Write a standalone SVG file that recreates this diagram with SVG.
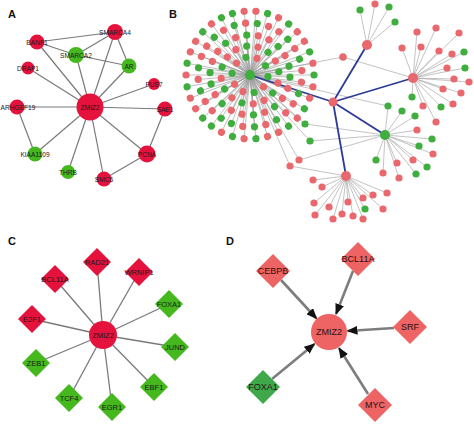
<svg xmlns="http://www.w3.org/2000/svg" width="474" height="424" viewBox="0 0 474 424">
<style>
.pl{font-family:"Liberation Sans",Arial,sans-serif;font-weight:bold;font-size:11px;fill:#111}
.ea{stroke:#7a7a7a;stroke-width:1.2;fill:none}
.eb{stroke:#9a9a9a;stroke-width:0.6;fill:none}
.bl{stroke:#2d3a96;stroke-width:1.8;fill:none}
.ec{stroke:#7a7a7a;stroke-width:1.3;fill:none}
.ed{stroke:#7d7d7d;stroke-width:2.6;fill:none}
.ra{fill:#e5123d}
.ga{fill:#45b81e}
.r{fill:#e9686e}
.g{fill:#3fae3f}
.rd{fill:#ee6363}
.gd{fill:#3ea84a}
.ta{font-family:"Liberation Sans",Arial,sans-serif;font-size:6.6px;fill:#1a1a1a;text-anchor:middle}
.tc{font-family:"Liberation Sans",Arial,sans-serif;font-size:7.5px;fill:#1a1a1a;text-anchor:middle}
.td{font-family:"Liberation Sans",Arial,sans-serif;font-size:9px;fill:#2a1212;text-anchor:middle}
</style>
<defs>
<marker id="ah" markerUnits="userSpaceOnUse" markerWidth="11" markerHeight="9" refX="10" refY="4.5" orient="auto">
<path d="M0,0 L11,4.5 L0,9 z" fill="#111"/>
</marker>
</defs>
<rect width="474" height="424" fill="#fff"/>

<!-- panel labels -->
<text class="pl" x="8" y="18">A</text>
<text class="pl" x="169" y="18">B</text>
<text class="pl" x="8" y="245">C</text>
<text class="pl" x="226" y="245">D</text>

<!-- ===== Connectors ===== -->
<g id="connectors">
 <!-- A -->
 <g id="conn-A" class="ea">
  <line x1="90" y1="107" x2="37" y2="42"/>
  <line x1="90" y1="107" x2="115" y2="32"/>
  <line x1="90" y1="107" x2="76" y2="55"/>
  <line x1="90" y1="107" x2="129" y2="66"/>
  <line x1="90" y1="107" x2="28" y2="68"/>
  <line x1="90" y1="107" x2="154" y2="84"/>
  <line x1="90" y1="107" x2="165" y2="109"/>
  <line x1="90" y1="107" x2="17" y2="107"/>
  <line x1="90" y1="107" x2="35" y2="154"/>
  <line x1="90" y1="107" x2="68" y2="172"/>
  <line x1="90" y1="107" x2="104" y2="179"/>
  <line x1="90" y1="107" x2="147" y2="154"/>
  <line x1="37" y1="42" x2="115" y2="32"/>
  <line x1="37" y1="42" x2="76" y2="55"/>
  <line x1="115" y1="32" x2="76" y2="55"/>
  <line x1="115" y1="32" x2="129" y2="66"/>
  <line x1="76" y1="55" x2="129" y2="66"/>
  <line x1="17" y1="107" x2="35" y2="154"/>
  <line x1="165" y1="109" x2="147" y2="154"/>
  <line x1="147" y1="154" x2="104" y2="179"/>
 </g>
 <!-- B: hub1 star -->
 <g id="conn-B1" class="eb" transform="translate(250,75)">
  <line x2="18" transform="rotate(5)"/><line x2="18" transform="rotate(41)"/><line x2="18" transform="rotate(77)"/><line x2="18" transform="rotate(113)"/><line x2="18" transform="rotate(149)"/><line x2="18" transform="rotate(185)"/><line x2="18" transform="rotate(221)"/><line x2="18" transform="rotate(257)"/><line x2="18" transform="rotate(293)"/><line x2="18" transform="rotate(329)"/>
  <line x2="29" transform="rotate(16)"/><line x2="29" transform="rotate(38.5)"/><line x2="29" transform="rotate(61)"/><line x2="29" transform="rotate(83.5)"/><line x2="29" transform="rotate(106)"/><line x2="29" transform="rotate(128.5)"/><line x2="29" transform="rotate(151)"/><line x2="29" transform="rotate(173.5)"/><line x2="29" transform="rotate(196)"/><line x2="29" transform="rotate(218.5)"/><line x2="29" transform="rotate(241)"/><line x2="29" transform="rotate(263.5)"/><line x2="29" transform="rotate(286)"/><line x2="29" transform="rotate(308.5)"/><line x2="29" transform="rotate(331)"/><line x2="29" transform="rotate(353.5)"/>
  <line x2="40" transform="rotate(3)"/><line x2="40" transform="rotate(19.4)"/><line x2="40" transform="rotate(35.8)"/><line x2="40" transform="rotate(52.2)"/><line x2="40" transform="rotate(68.6)"/><line x2="40" transform="rotate(85)"/><line x2="40" transform="rotate(101.4)"/><line x2="40" transform="rotate(117.8)"/><line x2="40" transform="rotate(134.2)"/><line x2="40" transform="rotate(150.6)"/><line x2="40" transform="rotate(167)"/><line x2="40" transform="rotate(183.4)"/><line x2="40" transform="rotate(199.8)"/><line x2="40" transform="rotate(216.2)"/><line x2="40" transform="rotate(232.6)"/><line x2="40" transform="rotate(249)"/><line x2="40" transform="rotate(265.4)"/><line x2="40" transform="rotate(281.8)"/><line x2="40" transform="rotate(298.2)"/><line x2="40" transform="rotate(314.6)"/><line x2="40" transform="rotate(331)"/><line x2="40" transform="rotate(347.4)"/>
  <line x2="52" transform="rotate(8)"/><line x2="52" transform="rotate(20.9)"/><line x2="52" transform="rotate(33.7)"/><line x2="52" transform="rotate(46.6)"/><line x2="52" transform="rotate(59.4)"/><line x2="52" transform="rotate(72.3)"/><line x2="52" transform="rotate(85.1)"/><line x2="52" transform="rotate(98)"/><line x2="52" transform="rotate(110.9)"/><line x2="52" transform="rotate(123.7)"/><line x2="52" transform="rotate(136.6)"/><line x2="52" transform="rotate(149.4)"/><line x2="52" transform="rotate(162.3)"/><line x2="52" transform="rotate(175.1)"/><line x2="52" transform="rotate(188)"/><line x2="52" transform="rotate(200.9)"/><line x2="52" transform="rotate(213.7)"/><line x2="52" transform="rotate(226.6)"/><line x2="52" transform="rotate(239.4)"/><line x2="52" transform="rotate(252.3)"/><line x2="52" transform="rotate(265.1)"/><line x2="52" transform="rotate(278)"/><line x2="52" transform="rotate(290.9)"/><line x2="52" transform="rotate(303.7)"/><line x2="52" transform="rotate(316.6)"/><line x2="52" transform="rotate(329.4)"/><line x2="52" transform="rotate(342.3)"/><line x2="52" transform="rotate(355.1)"/>
  <line x2="64" transform="rotate(0)"/><line x2="64" transform="rotate(10.6)"/><line x2="64" transform="rotate(21.2)"/><line x2="64" transform="rotate(31.8)"/><line x2="64" transform="rotate(42.4)"/><line x2="64" transform="rotate(53)"/><line x2="64" transform="rotate(63.5)"/><line x2="64" transform="rotate(74.1)"/><line x2="64" transform="rotate(84.7)"/><line x2="64" transform="rotate(95.3)"/><line x2="64" transform="rotate(105.9)"/><line x2="64" transform="rotate(116.5)"/><line x2="64" transform="rotate(127.1)"/><line x2="64" transform="rotate(137.6)"/><line x2="64" transform="rotate(148.2)"/><line x2="64" transform="rotate(158.8)"/><line x2="64" transform="rotate(169.4)"/><line x2="64" transform="rotate(180)"/><line x2="64" transform="rotate(190.6)"/><line x2="64" transform="rotate(201.2)"/><line x2="64" transform="rotate(211.8)"/><line x2="64" transform="rotate(222.4)"/><line x2="64" transform="rotate(233)"/><line x2="64" transform="rotate(243.5)"/><line x2="64" transform="rotate(254.1)"/><line x2="64" transform="rotate(264.7)"/><line x2="64" transform="rotate(275.3)"/><line x2="64" transform="rotate(285.9)"/><line x2="64" transform="rotate(296.5)"/><line x2="64" transform="rotate(307.1)"/><line x2="64" transform="rotate(317.6)"/><line x2="64" transform="rotate(328.2)"/><line x2="64" transform="rotate(338.8)"/><line x2="64" transform="rotate(349.4)"/>
 </g>
 <!-- B: other gray edges -->
 <g id="conn-B2" class="eb">
  <line x1="250" y1="75" x2="305" y2="124"/>
  <line x1="250" y1="75" x2="310" y2="141"/>
  <line x1="250" y1="75" x2="299" y2="160"/>
  <line x1="250" y1="75" x2="290" y2="166"/>
  <line x1="250" y1="75" x2="343" y2="57"/>
  <line x1="250" y1="75" x2="388" y2="106"/>
  <line x1="343" y1="57" x2="413" y2="78"/>
  <line x1="367" y1="45" x2="360" y2="10"/>
  <line x1="367" y1="45" x2="375" y2="4"/>
  <line x1="367" y1="45" x2="389" y2="7"/>
  <line x1="367" y1="45" x2="395" y2="22"/>
  <line x1="413" y1="78" x2="417" y2="32"/>
  <line x1="413" y1="78" x2="436" y2="28"/>
  <line x1="413" y1="78" x2="459" y2="33"/>
  <line x1="413" y1="78" x2="421" y2="47"/>
  <line x1="413" y1="78" x2="402" y2="48"/>
  <line x1="413" y1="78" x2="439" y2="51"/>
  <line x1="413" y1="78" x2="452" y2="54"/>
  <line x1="413" y1="78" x2="464" y2="52"/>
  <line x1="413" y1="78" x2="465" y2="68"/>
  <line x1="413" y1="78" x2="447" y2="68"/>
  <line x1="413" y1="78" x2="454" y2="79"/>
  <line x1="413" y1="78" x2="469" y2="82"/>
  <line x1="413" y1="78" x2="443" y2="89"/>
  <line x1="413" y1="78" x2="461" y2="93"/>
  <line x1="413" y1="78" x2="453" y2="104"/>
  <line x1="413" y1="78" x2="441" y2="107"/>
  <line x1="413" y1="78" x2="423" y2="106"/>
  <line x1="413" y1="78" x2="412" y2="97"/>
  <line x1="413" y1="78" x2="436" y2="122"/>
  <line x1="385" y1="135" x2="388" y2="106"/>
  <line x1="385" y1="135" x2="402" y2="111"/>
  <line x1="385" y1="135" x2="415" y2="116"/>
  <line x1="385" y1="135" x2="417" y2="130"/>
  <line x1="385" y1="135" x2="432" y2="139"/>
  <line x1="385" y1="135" x2="419" y2="146"/>
  <line x1="385" y1="135" x2="433" y2="154"/>
  <line x1="385" y1="135" x2="427" y2="167"/>
  <line x1="385" y1="135" x2="413" y2="160"/>
  <line x1="385" y1="135" x2="416" y2="174"/>
  <line x1="385" y1="135" x2="399" y2="178"/>
  <line x1="385" y1="135" x2="397" y2="163"/>
  <line x1="385" y1="135" x2="383" y2="173"/>
  <line x1="385" y1="135" x2="376" y2="160"/>
  <line x1="385" y1="135" x2="305" y2="124"/>
  <line x1="385" y1="135" x2="310" y2="141"/>
  <line x1="385" y1="135" x2="299" y2="160"/>
  <line x1="346" y1="176" x2="290" y2="166"/>
  <line x1="346" y1="176" x2="313" y2="180"/>
  <line x1="346" y1="176" x2="322" y2="187"/>
  <line x1="346" y1="176" x2="314" y2="203"/>
  <line x1="346" y1="176" x2="329" y2="207"/>
  <line x1="346" y1="176" x2="348" y2="202"/>
  <line x1="346" y1="176" x2="363" y2="198"/>
  <line x1="346" y1="176" x2="373" y2="195"/>
  <line x1="346" y1="176" x2="387" y2="193"/>
  <line x1="346" y1="176" x2="365" y2="209"/>
  <line x1="346" y1="176" x2="383" y2="209"/>
  <line x1="346" y1="176" x2="315" y2="215"/>
  <line x1="346" y1="176" x2="342" y2="214"/>
  <line x1="346" y1="176" x2="353" y2="216"/>
  <line x1="346" y1="176" x2="333" y2="219"/>
  <line x1="346" y1="176" x2="363" y2="219"/>
 </g>
 <!-- B: blue edges -->
 <g id="conn-B3" class="bl">
  <line x1="250" y1="75" x2="333" y2="102"/>
  <line x1="333" y1="102" x2="367" y2="45"/>
  <line x1="333" y1="102" x2="413" y2="78"/>
  <line x1="333" y1="102" x2="385" y2="135"/>
  <line x1="333" y1="102" x2="346" y2="176"/>
 </g>
 <!-- C -->
 <g id="conn-C" class="ec">
  <line x1="103" y1="335" x2="97" y2="262"/>
  <line x1="103" y1="335" x2="139" y2="272"/>
  <line x1="103" y1="335" x2="55" y2="279"/>
  <line x1="103" y1="335" x2="169" y2="304"/>
  <line x1="103" y1="335" x2="32" y2="319"/>
  <line x1="103" y1="335" x2="175" y2="347"/>
  <line x1="103" y1="335" x2="36" y2="363"/>
  <line x1="103" y1="335" x2="154" y2="387"/>
  <line x1="103" y1="335" x2="69" y2="398"/>
  <line x1="103" y1="335" x2="112" y2="407"/>
 </g>
 <!-- D -->
 <g id="conn-D" class="ed" marker-end="url(#ah)">
  <line x1="281" y1="280" x2="316.5" y2="318.5"/>
  <line x1="353" y1="271" x2="336" y2="314"/>
  <line x1="394" y1="328" x2="347.5" y2="331"/>
  <line x1="272" y1="379" x2="314.5" y2="344"/>
  <line x1="368" y1="394" x2="339" y2="348"/>
 </g>
</g>

<!-- ===== Panel A nodes ===== -->
<g id="A-ZMIZ2"><circle class="ra" cx="90" cy="107" r="13.5"/><text class="ta" x="90" y="109.5">ZMIZ2</text></g>
<g id="A-BANF1"><circle class="ra" cx="37" cy="42" r="7.5"/><text class="ta" x="37" y="44.5">BANF1</text></g>
<g id="A-SMARCA4"><circle class="ra" cx="115" cy="32" r="8"/><text class="ta" x="115" y="34.5">SMARCA4</text></g>
<g id="A-SMARCA2"><circle class="ga" cx="76" cy="55" r="8"/><text class="ta" x="76" y="57.5">SMARCA2</text></g>
<g id="A-AR"><circle class="ga" cx="129" cy="66" r="7.5"/><text class="ta" x="129" y="68.5">AR</text></g>
<g id="A-DRAP1"><circle class="ra" cx="28" cy="68" r="6.5"/><text class="ta" x="28" y="70.5">DRAP1</text></g>
<g id="A-PUS7"><circle class="ra" cx="154" cy="84" r="6"/><text class="ta" x="154" y="86.5">PUS7</text></g>
<g id="A-SAE1"><circle class="ra" cx="165" cy="109" r="7.5"/><text class="ta" x="165" y="111.5">SAE1</text></g>
<g id="A-ARHGEF19"><circle class="ra" cx="17" cy="107" r="7.5"/><text class="ta" x="18" y="109.5">ARHGEF19</text></g>
<g id="A-KIAA1109"><circle class="ga" cx="35" cy="154" r="7.5"/><text class="ta" x="35" y="156.5">KIAA1109</text></g>
<g id="A-THRB"><circle class="ga" cx="68" cy="172" r="7"/><text class="ta" x="68" y="174.5">THRB</text></g>
<g id="A-SMC6"><circle class="ra" cx="104" cy="179" r="7.5"/><text class="ta" x="104" y="181.5">SMC6</text></g>
<g id="A-PCNA"><circle class="ra" cx="147" cy="154" r="8.5"/><text class="ta" x="147" y="156.5">PCNA</text></g>

<!-- ===== Panel B nodes ===== -->
<g id="B-hub1-leaves" transform="translate(250,75)">
 <circle class="g" r="3.6" transform="rotate(5)translate(18)"/><circle class="r" r="3.6" transform="rotate(41)translate(18)"/><circle class="g" r="3.6" transform="rotate(77)translate(18)"/><circle class="r" r="3.6" transform="rotate(113)translate(18)"/><circle class="r" r="3.6" transform="rotate(149)translate(18)"/><circle class="g" r="3.6" transform="rotate(185)translate(18)"/><circle class="r" r="3.6" transform="rotate(221)translate(18)"/><circle class="g" r="3.6" transform="rotate(257)translate(18)"/><circle class="r" r="3.6" transform="rotate(293)translate(18)"/><circle class="g" r="3.6" transform="rotate(329)translate(18)"/>
 <circle class="r" r="3.6" transform="rotate(16)translate(29)"/><circle class="g" r="3.6" transform="rotate(38.5)translate(29)"/><circle class="r" r="3.6" transform="rotate(61)translate(29)"/><circle class="r" r="3.6" transform="rotate(83.5)translate(29)"/><circle class="g" r="3.6" transform="rotate(106)translate(29)"/><circle class="r" r="3.6" transform="rotate(128.5)translate(29)"/><circle class="g" r="3.6" transform="rotate(151)translate(29)"/><circle class="r" r="3.6" transform="rotate(173.5)translate(29)"/><circle class="g" r="3.6" transform="rotate(196)translate(29)"/><circle class="r" r="3.6" transform="rotate(218.5)translate(29)"/><circle class="r" r="3.6" transform="rotate(241)translate(29)"/><circle class="g" r="3.6" transform="rotate(263.5)translate(29)"/><circle class="r" r="3.6" transform="rotate(286)translate(29)"/><circle class="g" r="3.6" transform="rotate(308.5)translate(29)"/><circle class="r" r="3.6" transform="rotate(331)translate(29)"/><circle class="g" r="3.6" transform="rotate(353.5)translate(29)"/>
 <circle class="g" r="3.6" transform="rotate(3)translate(40)"/><circle class="r" r="3.6" transform="rotate(19.4)translate(40)"/><circle class="r" r="3.6" transform="rotate(35.8)translate(40)"/><circle class="g" r="3.6" transform="rotate(52.2)translate(40)"/><circle class="r" r="3.6" transform="rotate(68.6)translate(40)"/><circle class="g" r="3.6" transform="rotate(85)translate(40)"/><circle class="r" r="3.6" transform="rotate(101.4)translate(40)"/><circle class="r" r="3.6" transform="rotate(117.8)translate(40)"/><circle class="g" r="3.6" transform="rotate(134.2)translate(40)"/><circle class="r" r="3.6" transform="rotate(150.6)translate(40)"/><circle class="g" r="3.6" transform="rotate(167)translate(40)"/><circle class="g" r="3.6" transform="rotate(183.4)translate(40)"/><circle class="r" r="3.6" transform="rotate(199.8)translate(40)"/><circle class="r" r="3.6" transform="rotate(216.2)translate(40)"/><circle class="g" r="3.6" transform="rotate(232.6)translate(40)"/><circle class="r" r="3.6" transform="rotate(249)translate(40)"/><circle class="g" r="3.6" transform="rotate(265.4)translate(40)"/><circle class="r" r="3.6" transform="rotate(281.8)translate(40)"/><circle class="r" r="3.6" transform="rotate(298.2)translate(40)"/><circle class="g" r="3.6" transform="rotate(314.6)translate(40)"/><circle class="r" r="3.6" transform="rotate(331)translate(40)"/><circle class="g" r="3.6" transform="rotate(347.4)translate(40)"/>
 <circle class="r" r="3.6" transform="rotate(8)translate(52)"/><circle class="g" r="3.6" transform="rotate(20.9)translate(52)"/><circle class="r" r="3.6" transform="rotate(33.7)translate(52)"/><circle class="r" r="3.6" transform="rotate(46.6)translate(52)"/><circle class="g" r="3.6" transform="rotate(59.4)translate(52)"/><circle class="r" r="3.6" transform="rotate(72.3)translate(52)"/><circle class="g" r="3.6" transform="rotate(85.1)translate(52)"/><circle class="r" r="3.6" transform="rotate(98)translate(52)"/><circle class="g" r="3.6" transform="rotate(110.9)translate(52)"/><circle class="g" r="3.6" transform="rotate(123.7)translate(52)"/><circle class="r" r="3.6" transform="rotate(136.6)translate(52)"/><circle class="r" r="3.6" transform="rotate(149.4)translate(52)"/><circle class="g" r="3.6" transform="rotate(162.3)translate(52)"/><circle class="r" r="3.6" transform="rotate(175.1)translate(52)"/><circle class="g" r="3.6" transform="rotate(188)translate(52)"/><circle class="r" r="3.6" transform="rotate(200.9)translate(52)"/><circle class="r" r="3.6" transform="rotate(213.7)translate(52)"/><circle class="g" r="3.6" transform="rotate(226.6)translate(52)"/><circle class="r" r="3.6" transform="rotate(239.4)translate(52)"/><circle class="g" r="3.6" transform="rotate(252.3)translate(52)"/><circle class="r" r="3.6" transform="rotate(265.1)translate(52)"/><circle class="g" r="3.6" transform="rotate(278)translate(52)"/><circle class="r" r="3.6" transform="rotate(290.9)translate(52)"/><circle class="r" r="3.6" transform="rotate(303.7)translate(52)"/><circle class="g" r="3.6" transform="rotate(316.6)translate(52)"/><circle class="r" r="3.6" transform="rotate(329.4)translate(52)"/><circle class="g" r="3.6" transform="rotate(342.3)translate(52)"/><circle class="r" r="3.6" transform="rotate(355.1)translate(52)"/>
 <circle class="g" r="3.6" transform="rotate(0)translate(64)"/><circle class="r" r="3.6" transform="rotate(10.6)translate(64)"/><circle class="r" r="3.6" transform="rotate(21.2)translate(64)"/><circle class="g" r="3.6" transform="rotate(31.8)translate(64)"/><circle class="r" r="3.6" transform="rotate(42.4)translate(64)"/><circle class="g" r="3.6" transform="rotate(53)translate(64)"/><circle class="r" r="3.6" transform="rotate(63.5)translate(64)"/><circle class="r" r="3.6" transform="rotate(74.1)translate(64)"/><circle class="g" r="3.6" transform="rotate(84.7)translate(64)"/><circle class="r" r="3.6" transform="rotate(95.3)translate(64)"/><circle class="g" r="3.6" transform="rotate(105.9)translate(64)"/><circle class="r" r="3.6" transform="rotate(116.5)translate(64)"/><circle class="g" r="3.6" transform="rotate(127.1)translate(64)"/><circle class="g" r="3.6" transform="rotate(137.6)translate(64)"/><circle class="r" r="3.6" transform="rotate(148.2)translate(64)"/><circle class="r" r="3.6" transform="rotate(158.8)translate(64)"/><circle class="g" r="3.6" transform="rotate(169.4)translate(64)"/><circle class="r" r="3.6" transform="rotate(180)translate(64)"/><circle class="g" r="3.6" transform="rotate(190.6)translate(64)"/><circle class="r" r="3.6" transform="rotate(201.2)translate(64)"/><circle class="r" r="3.6" transform="rotate(211.8)translate(64)"/><circle class="g" r="3.6" transform="rotate(222.4)translate(64)"/><circle class="r" r="3.6" transform="rotate(233)translate(64)"/><circle class="g" r="3.6" transform="rotate(243.5)translate(64)"/><circle class="g" r="3.6" transform="rotate(254.1)translate(64)"/><circle class="r" r="3.6" transform="rotate(264.7)translate(64)"/><circle class="r" r="3.6" transform="rotate(275.3)translate(64)"/><circle class="g" r="3.6" transform="rotate(285.9)translate(64)"/><circle class="r" r="3.6" transform="rotate(296.5)translate(64)"/><circle class="g" r="3.6" transform="rotate(307.1)translate(64)"/><circle class="r" r="3.6" transform="rotate(317.6)translate(64)"/><circle class="r" r="3.6" transform="rotate(328.2)translate(64)"/><circle class="g" r="3.6" transform="rotate(338.8)translate(64)"/><circle class="r" r="3.6" transform="rotate(349.4)translate(64)"/>
</g>
<g id="B-bridge-leaves">
 <circle class="g" cx="305" cy="124" r="3.6"/><circle class="g" cx="310" cy="141" r="3.6"/><circle class="r" cx="299" cy="160" r="3.6"/><circle class="r" cx="290" cy="166" r="3.6"/><circle class="r" cx="343" cy="57" r="3.8"/>
</g>
<g id="B-hub2-leaves">
 <circle class="g" cx="360" cy="10" r="3.6"/><circle class="r" cx="375" cy="4" r="3.6"/><circle class="g" cx="389" cy="7" r="3.6"/><circle class="g" cx="395" cy="22" r="3.6"/>
</g>
<g id="B-hub3-leaves">
 <circle class="r" cx="417" cy="32" r="3.6"/><circle class="r" cx="436" cy="28" r="3.6"/><circle class="r" cx="459" cy="33" r="3.6"/><circle class="r" cx="421" cy="47" r="3.6"/><circle class="r" cx="402" cy="48" r="3.6"/><circle class="r" cx="439" cy="51" r="3.6"/><circle class="r" cx="452" cy="54" r="3.6"/><circle class="g" cx="464" cy="52" r="3.6"/><circle class="g" cx="465" cy="68" r="3.6"/><circle class="r" cx="447" cy="68" r="3.6"/><circle class="r" cx="454" cy="79" r="3.6"/><circle class="r" cx="469" cy="82" r="3.6"/><circle class="r" cx="443" cy="89" r="3.6"/><circle class="r" cx="461" cy="93" r="3.6"/><circle class="r" cx="453" cy="104" r="3.6"/><circle class="g" cx="441" cy="107" r="3.6"/><circle class="r" cx="423" cy="106" r="3.6"/><circle class="g" cx="412" cy="97" r="3.6"/><circle class="r" cx="436" cy="122" r="3.6"/>
</g>
<g id="B-hub5-leaves">
 <circle class="g" cx="388" cy="106" r="3.6"/><circle class="g" cx="402" cy="111" r="3.6"/><circle class="g" cx="415" cy="116" r="3.6"/><circle class="r" cx="417" cy="130" r="3.6"/><circle class="g" cx="432" cy="139" r="3.6"/><circle class="g" cx="419" cy="146" r="3.6"/><circle class="r" cx="433" cy="154" r="3.6"/><circle class="g" cx="427" cy="167" r="3.6"/><circle class="r" cx="413" cy="160" r="3.6"/><circle class="g" cx="416" cy="174" r="3.6"/><circle class="r" cx="399" cy="178" r="3.6"/><circle class="r" cx="397" cy="163" r="3.6"/><circle class="r" cx="383" cy="173" r="3.6"/><circle class="g" cx="376" cy="160" r="3.6"/>
</g>
<g id="B-hub6-leaves">
 <circle class="r" cx="313" cy="180" r="3.6"/><circle class="r" cx="322" cy="187" r="3.6"/><circle class="r" cx="314" cy="203" r="3.6"/><circle class="r" cx="329" cy="207" r="3.6"/><circle class="r" cx="348" cy="202" r="3.6"/><circle class="r" cx="363" cy="198" r="3.6"/><circle class="r" cx="373" cy="195" r="3.6"/><circle class="r" cx="387" cy="193" r="3.6"/><circle class="g" cx="365" cy="209" r="3.6"/><circle class="r" cx="383" cy="209" r="3.6"/><circle class="r" cx="315" cy="215" r="3.6"/><circle class="r" cx="342" cy="214" r="3.6"/><circle class="r" cx="353" cy="216" r="3.6"/><circle class="r" cx="333" cy="219" r="3.6"/><circle class="r" cx="363" cy="219" r="3.6"/>
</g>
<g id="B-hub1"><circle class="g" cx="250" cy="75" r="5"/></g>
<g id="B-hub2"><circle class="r" cx="367" cy="45" r="5"/></g>
<g id="B-hub3"><circle class="r" cx="413" cy="78" r="5"/></g>
<g id="B-hub4"><circle class="r" cx="333" cy="102" r="4.5"/></g>
<g id="B-hub5"><circle class="g" cx="385" cy="135" r="5"/></g>
<g id="B-hub6"><circle class="r" cx="346" cy="176" r="5"/></g>

<!-- ===== Panel C nodes ===== -->
<g id="C-ZMIZ2"><circle class="ra" cx="103" cy="335" r="14"/><text class="tc" x="103" y="337.7">ZMIZ2</text></g>
<g id="C-RAD21"><path class="ra" d="M97,248 L111,262 L97,276 L83,262 Z"/><text class="tc" x="97" y="264.7">RAD21</text></g>
<g id="C-WRNIP1"><path class="ra" d="M139,258 L153,272 L139,286 L125,272 Z"/><text class="tc" x="139" y="274.7">WRNIP1</text></g>
<g id="C-BCL11A"><path class="ra" d="M55,265 L69,279 L55,293 L41,279 Z"/><text class="tc" x="55" y="281.7">BCL11A</text></g>
<g id="C-FOXA1"><path class="ga" d="M169,290 L183,304 L169,318 L155,304 Z"/><text class="tc" x="169" y="306.7">FOXA1</text></g>
<g id="C-E2F1"><path class="ra" d="M32,305 L46,319 L32,333 L18,319 Z"/><text class="tc" x="32" y="321.7">E2F1</text></g>
<g id="C-JUND"><path class="ga" d="M175,333 L189,347 L175,361 L161,347 Z"/><text class="tc" x="175" y="349.7">JUND</text></g>
<g id="C-ZEB1"><path class="ga" d="M36,349 L50,363 L36,377 L22,363 Z"/><text class="tc" x="36" y="365.7">ZEB1</text></g>
<g id="C-EBF1"><path class="ga" d="M154,373 L168,387 L154,401 L140,387 Z"/><text class="tc" x="154" y="389.7">EBF1</text></g>
<g id="C-TCF4"><path class="ga" d="M69,384 L83,398 L69,412 L55,398 Z"/><text class="tc" x="69" y="400.7">TCF4</text></g>
<g id="C-EGR1"><path class="ga" d="M112,393 L126,407 L112,421 L98,407 Z"/><text class="tc" x="112" y="409.7">EGR1</text></g>

<!-- ===== Panel D nodes ===== -->
<g id="D-ZMIZ2"><circle class="rd" cx="329" cy="332" r="18"/><text class="td" x="329" y="335.2">ZMIZ2</text></g>
<g id="D-CEBPB"><path class="rd" d="M273,254 L290,271 L273,288 L256,271 Z"/><text class="td" x="273" y="274.2">CEBPB</text></g>
<g id="D-BCL11A"><path class="rd" d="M358,242 L375,259 L358,276 L341,259 Z"/><text class="td" x="358" y="262.2">BCL11A</text></g>
<g id="D-SRF"><path class="rd" d="M410,310 L427,327 L410,344 L393,327 Z"/><text class="td" x="410" y="330.2">SRF</text></g>
<g id="D-FOXA1"><path class="gd" d="M263,370 L280,387 L263,404 L246,387 Z"/><text class="td" x="263" y="390.2">FOXA1</text></g>
<g id="D-MYC"><path class="rd" d="M375,388 L392,405 L375,422 L358,405 Z"/><text class="td" x="375" y="408.2">MYC</text></g>
</svg>
